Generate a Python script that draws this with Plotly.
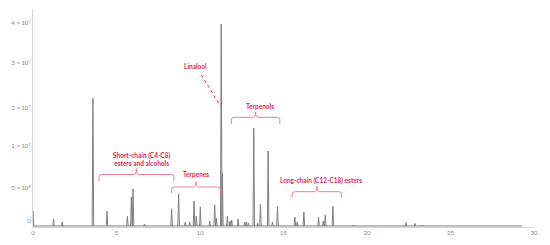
import numpy as np
import plotly.graph_objects as go

# ---- data (retention time in min, intensity in counts) ----
peak_times = [0.0, 1.23, 1.75, 3.59, 4.43, 5.65, 5.89, 5.99, 6.68, 8.30, 8.72, 9.12, 9.38,
              9.64, 9.78, 10.02, 10.58, 10.88, 10.98, 11.27, 11.34, 11.64, 11.80, 11.90,
              12.28, 12.68, 12.78, 12.90, 13.22, 13.45, 13.62, 14.08, 14.34, 14.64, 15.68,
              15.82, 16.22, 17.10, 17.38, 17.50, 17.96, 19.20, 22.33, 22.87, 23.30]
peak_heights = [2.3e6, 1.06e6, 0.6e6, 2.33e7, 2.27e6, 1.5e6, 4.4e6, 5.5e6, 0.3e6, 2.6e6, 4.85e6,
                0.6e6, 0.6e6, 3.8e6, 1.5e6, 2.9e6, 0.75e6, 3.2e6, 1.2e6, 4.1e7, 7.4e6, 1.5e6,
                0.75e6, 0.9e6, 1.06e6, 0.6e6, 0.6e6, 0.45e6, 1.6e7, 0.45e6, 3.3e6, 1.0e7,
                0.6e6, 2.9e6, 1.36e6, 0.6e6, 2.1e6, 1.36e6, 0.75e6, 1.67e6, 3.0e6, 0.15e6,
                0.53e6, 0.38e6, 0.15e6]
run_end = 29.3

# y-axis tick values and their labels (the original axis is not linear)
tick_values = [0, 5e6, 1e7, 2e7, 3e7, 4e7]
tick_labels = ["0", "5 × 10<sup>6</sup>", "1 × 10<sup>7</sup>", "2 × 10<sup>7</sup>",
               "3 × 10<sup>7</sup>", "4 × 10<sup>7</sup>"]
x_ticks = [0, 5, 10, 15, 20, 25, 30]

# group labels: text, x, y(display), brace (x1, x2, xc, y_h, y_end, y_tip)
groups = [
    ("Short-chain (C4-C8)<br>esters and alcohols", 6.47, 67.5, (3.95, 8.44, 6.19, 51.5, 45, 57.5)),
    ("Terpenes", 9.78, 52, (8.30, 11.22, 9.77, 39, 33, 44.3)),
    ("Terpenols", 13.57, 119.3, (11.88, 14.78, 13.33, 108.7, 102, 114)),
    ("Long-chain (C12-C18) esters", 17.24, 45.5, (15.52, 18.48, 17.0, 34.3, 28.5, 39.7)),
]

# ---- display scale (piecewise, as in the original chart) ----
scale_in = [0, 5e6, 1e7, 2e7, 3e7, 4e7, 5e7]
scale_out = [0, 33, 75, 113, 158, 198, 238]
LABEL_OFFSET = 5  # tick labels sit slightly above their ticks in the original


def disp(v):
    return np.interp(v, scale_in, scale_out)


w = 0.045
px, py = [], []
for t, h in zip(peak_times, peak_heights):
    px += [t - w, t, t + w, None]
    py += [0, float(disp(h)), 0, None]

RED = "#E3264F"
PINK = "#F27A96"
GRAY = "#7f7f7f"
FONT = "Lato"

fig = go.Figure()
fig.add_trace(go.Scatter(x=[0, run_end], y=[0, 0], mode="lines",
                         line=dict(color=GRAY, width=1), hoverinfo="skip"))
fig.add_trace(go.Scatter(x=px, y=py, mode="lines", line=dict(color=GRAY, width=1),
                         hoverinfo="skip"))

for text, tx, ty, (x1, x2, xc, yh, ye, yt) in groups:
    fig.add_annotation(x=tx, y=ty, xref="x", yref="y", text=f"<b>{text}</b>", showarrow=False,
                       font=dict(family=FONT, size=6.5, color=RED), align="center")
    rx, ry = 0.15, 2.5
    path = (f"M {x1},{ye} L {x1},{yh-ry} Q {x1},{yh} {x1+rx},{yh} "
            f"L {xc-rx},{yh} Q {xc},{yh} {xc},{yt} Q {xc},{yh} {xc+rx},{yh} "
            f"L {x2-rx},{yh} Q {x2},{yh} {x2},{yh-ry} L {x2},{ye}")
    fig.add_shape(type="path", path=path, xref="x", yref="y",
                  line=dict(color=PINK, width=1))

fig.add_annotation(x=9.73, y=159.3, xref="x", yref="y", text="<b>Linalool</b>", showarrow=False,
                   font=dict(family=FONT, size=6.5, color=RED))
fig.add_shape(type="line", x0=10.08, y0=151, x1=11.22, y1=120, xref="x", yref="y",
              line=dict(color=RED, width=1, dash="dot"))

fig.update_layout(
    width=550, height=245,
    margin=dict(l=33, r=16, t=9, b=18),
    paper_bgcolor="white", plot_bgcolor="white",
    showlegend=False, hovermode=False,
    font=dict(family=FONT, color=GRAY),
)
fig.update_xaxes(range=[0, 30], tickvals=x_ticks, ticktext=[str(v) for v in x_ticks],
                 showgrid=False, zeroline=False, showline=True, linecolor="#d9d9d9",
                 linewidth=1, ticks="", tickfont=dict(size=6, color=GRAY), automargin=False)
fig.update_yaxes(range=[-1, 217],
                 tickvals=[float(disp(v)) + LABEL_OFFSET for v in tick_values],
                 ticktext=tick_labels, showgrid=False, zeroline=False, showline=True,
                 linecolor="#d9d9d9", linewidth=1, ticks="",
                 tickfont=dict(size=6, color=GRAY), automargin=False)

fig.write_html("out.html", config={"displayModeBar": False, "staticPlot": True},
               post_script="document.body.style.margin='0';")
